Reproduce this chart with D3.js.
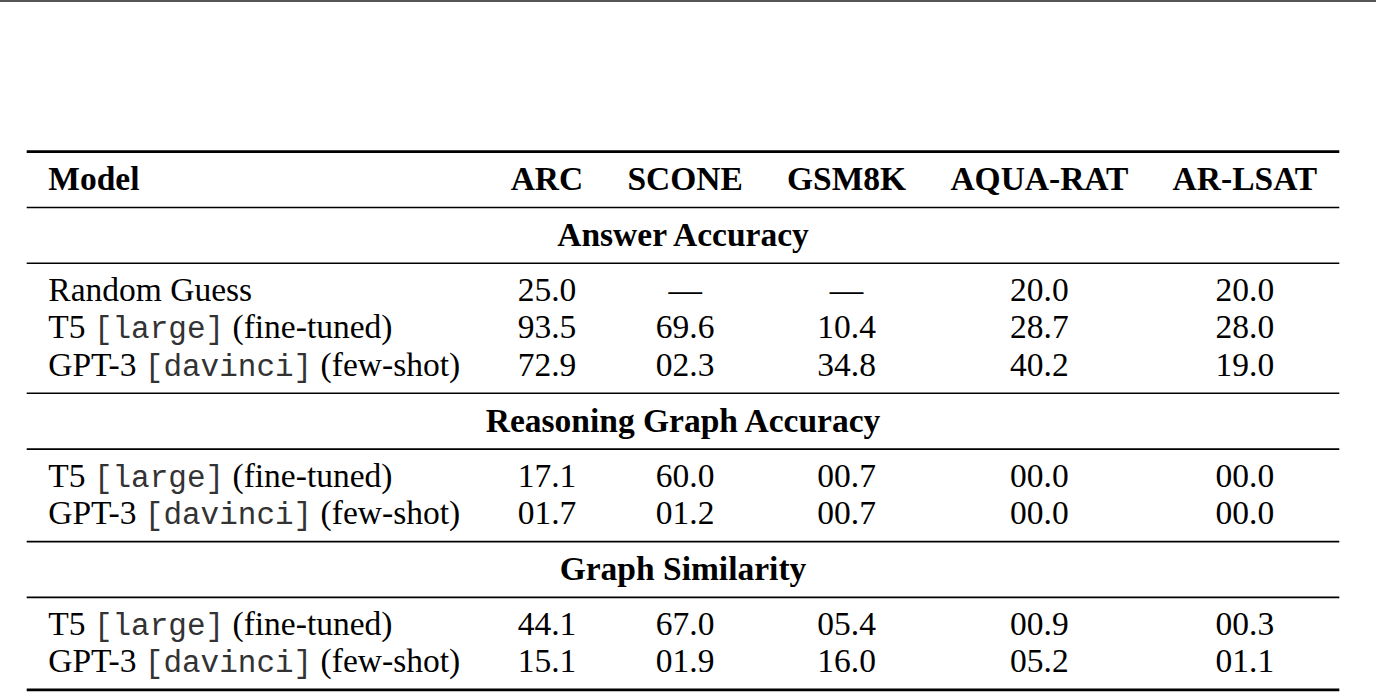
<!DOCTYPE html>
<html><head><meta charset="utf-8">
<script src="https://cdn.jsdelivr.net/npm/d3@7"></script>
<style>html,body{margin:0;padding:0;background:#fff;} svg{display:block;} text{white-space:pre;}</style>
</head><body><svg id="chart" width="1376" height="697"></svg>
<script>
// ---------- data ----------
const datasets = ["ARC", "SCONE", "GSM8K", "AQUA-RAT", "AR-LSAT"];
const modelHeader = "Model";
const sectionTitles = ["Answer Accuracy", "Reasoning Graph Accuracy", "Graph Similarity"];
// model label parts: [name, size (monospace), setting]
const answerModels = [["Random Guess", null, null], ["T5", "large", "(fine-tuned)"], ["GPT-3", "davinci", "(few-shot)"]];
const answerValues = [
  [25.0, null, null, 20.0, 20.0],
  [93.5, 69.6, 10.4, 28.7, 28.0],
  [72.9, 2.3, 34.8, 40.2, 19.0]
];
const graphModels = [["T5", "large", "(fine-tuned)"], ["GPT-3", "davinci", "(few-shot)"]];
const graphAccValues = [
  [17.1, 60.0, 0.7, 0.0, 0.0],
  [1.7, 1.2, 0.7, 0.0, 0.0]
];
const graphSimValues = [
  [44.1, 67.0, 5.4, 0.9, 0.3],
  [15.1, 1.9, 16.0, 5.2, 1.1]
];

const sections = [
  { title: sectionTitles[0], models: answerModels, values: answerValues },
  { title: sectionTitles[1], models: graphModels, values: graphAccValues },
  { title: sectionTitles[2], models: graphModels, values: graphSimValues }
];

// ---------- layout ----------
const W = 1376, H = 697;
const FONT = "'Liberation Serif','Times New Roman',serif";
const MONO = "'Liberation Mono','Courier New',monospace";
const FS = 33.5, MONO_FS = 31;
const tableLeft = 26.7, tableWidth = 1312.6, colSep = 22.1;
const topRuleY = 151.7, firstOffset = 38.3, rowStep = 37.5, belowGap = 17.5;
const heavyRule = 2.8, lightRule = 1.6;

const fmt = v => v == null ? "\u2014" : d3.format("04.1f")(v);

const svg = d3.select("#chart");
svg.append("rect").attr("width", W).attr("height", H).attr("fill", "#fff");
// page edge line at the very top
svg.append("line").attr("x1", 0).attr("x2", W).attr("y1", 1).attr("y2", 1)
  .attr("stroke", "#555").attr("stroke-width", 2);

const measureG = svg.append("g").attr("visibility", "hidden");
function textWidth(str, bold) {
  const t = measureG.append("text").attr("font-family", FONT).attr("font-size", FS)
    .attr("font-weight", bold ? "bold" : "normal").text(str);
  const w = t.node().getComputedTextLength();
  t.remove();
  return w;
}

const colWidths = datasets.map((d, i) => d3.max([
  textWidth(d, true),
  ...sections.flatMap(s => s.values.map(r => textWidth(fmt(r[i]), false)))
]));
const numericWidth = d3.sum(colWidths) + 2 * colSep * datasets.length;
const modelW = tableWidth - numericWidth - 2 * colSep;
let cursor = tableLeft + 2 * colSep + modelW;
const centers = colWidths.map(w => { const c = cursor + colSep + w / 2; cursor += 2 * colSep + w; return c; });
const xCol = d3.scaleOrdinal(datasets, centers);
const modelX = tableLeft + 21.6;
const tableRight = tableLeft + tableWidth;
const tableCenter = (modelX + tableRight - 21.6) / 2;

// build vertical structure
const rules = [];
const rows = [];
let y = topRuleY;
rules.push({ y, w: heavyRule });
y += firstOffset;
rows.push({ type: "header", y });
y += belowGap;
rules.push({ y, w: lightRule });
sections.forEach((s, si) => {
  y += firstOffset;
  rows.push({ type: "title", y, text: s.title });
  y += belowGap;
  rules.push({ y, w: lightRule });
  s.models.forEach((m, mi) => {
    y += rowStep;
    rows.push({ type: "data", y, model: m, values: s.values[mi] });
  });
  y += belowGap;
  rules.push({ y, w: si === sections.length - 1 ? heavyRule : lightRule });
});

// rules
svg.append("g").selectAll("line").data(rules).join("line")
  .attr("x1", tableLeft).attr("x2", tableRight)
  .attr("y1", d => d.y).attr("y2", d => d.y)
  .attr("stroke", "#000").attr("stroke-width", d => d.w);

const g = svg.append("g").attr("font-family", FONT).attr("font-size", FS).attr("fill", "#000");

// header
const header = rows.find(r => r.type === "header");
g.append("text").attr("x", modelX).attr("y", header.y).attr("font-weight", "bold").text(modelHeader);
g.append("g").selectAll("text").data(datasets).join("text")
  .attr("x", d => xCol(d)).attr("y", header.y).attr("text-anchor", "middle")
  .attr("font-weight", "bold").text(d => d);

// section titles
g.append("g").selectAll("text").data(rows.filter(r => r.type === "title")).join("text")
  .attr("x", tableCenter).attr("y", d => d.y).attr("text-anchor", "middle")
  .attr("font-weight", "bold").text(d => d.text);

// data rows
const dataRows = g.append("g").selectAll("g").data(rows.filter(r => r.type === "data")).join("g");
dataRows.each(function (d) {
  const row = d3.select(this);
  const [name, size, setting] = d.model;
  const t = row.append("text").attr("x", modelX).attr("y", d.y);
  if (size == null) {
    t.text(name);
  } else {
    t.append("tspan").text(name + " ");
    t.append("tspan").attr("font-family", MONO).attr("font-size", MONO_FS).attr("fill", "#333").text("[" + size + "]");
    t.append("tspan").text(" " + setting);
  }
  row.selectAll("text.val").data(d.values.map((v, i) => ({ v, col: datasets[i] }))).join("text")
    .attr("class", "val")
    .attr("x", c => xCol(c.col)).attr("y", d.y).attr("text-anchor", "middle")
    .text(c => fmt(c.v));
});
</script>
</body></html>
